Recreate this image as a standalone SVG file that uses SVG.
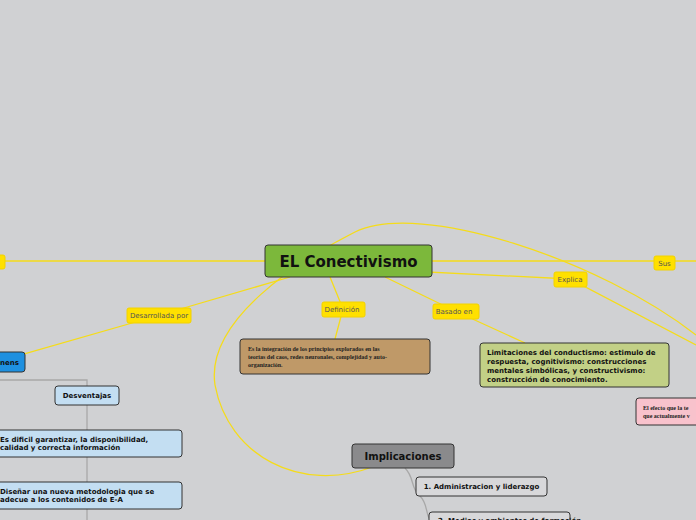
<svg xmlns="http://www.w3.org/2000/svg" width="696" height="520" viewBox="0 0 696 520">
<style>
.lbl{fill:#ffe000;stroke:#f2d200;stroke-width:1}
.lt{font-family:"DejaVu Sans",sans-serif;font-size:7px;fill:#555}
.bx{stroke:#333;stroke-width:1}
.b{font-family:"DejaVu Sans",sans-serif;font-weight:bold;font-size:7px;fill:#111}
.s{font-family:"Liberation Serif",serif;font-weight:bold;font-size:6px;fill:#222}
.y{fill:none;stroke:#f5dc1a;stroke-width:1.3}
.g{fill:none;stroke:#a8a8a8;stroke-width:1.3}
</style>
<rect width="696" height="520" fill="#d0d1d3"/>
<g id="connectors">
<path class="y" d="M0,261H265M432,261H696"/>
<path class="y" d="M290,277L160,315L20,355"/>
<path class="y" d="M330,277L343,309L335,339"/>
<path class="y" d="M385,277L455,311L525,343"/>
<path class="y" d="M388,270L570,279L696,345"/>
<path class="y" d="M696,335C600,260 420,200 355,232C300,260 205,320 215,385C228,455 300,495 375,466"/>
<path class="g" d="M0,380H87V520"/>
<path class="g" d="M405,468C415,478 410,488 420,496C428,504 425,512 430,520"/>
</g>
<g id="center"><rect x="265" y="245" width="167" height="32" rx="3" fill="#7cb83b" class="bx"/><text x="348.5" y="267" text-anchor="middle" font-family="DejaVu Sans,sans-serif" font-weight="bold" font-size="15" fill="#111">EL Conectivismo</text></g>
<g id="l-left"><rect class="lbl" x="-5" y="255" width="10" height="14" rx="2"/></g>
<g id="l-sus"><rect class="lbl" x="654" y="256" width="21" height="14" rx="2"/><text class="lt" x="664.5" y="265.5" text-anchor="middle">Sus</text></g>
<g id="l-des"><rect class="lbl" x="127" y="308" width="64" height="15" rx="2"/><text class="lt" x="159" y="318" text-anchor="middle">Desarrollada por</text></g>
<g id="l-def"><rect class="lbl" x="322" y="302" width="43" height="15" rx="2"/><text class="lt" x="342" y="312" text-anchor="middle">Definición</text></g>
<g id="l-bas"><rect class="lbl" x="433" y="304" width="46" height="15" rx="2"/><text class="lt" x="454" y="314" text-anchor="middle">Basado en</text></g>
<g id="l-exp"><rect class="lbl" x="554" y="272" width="33" height="15" rx="2"/><text class="lt" x="570" y="282" text-anchor="middle">Explica</text></g>
<g id="siemens"><rect x="-10" y="352" width="35" height="20" rx="3" fill="#1e90e0" class="bx"/><text class="b" x="0" y="365">nens</text></g>
<g id="def"><rect x="240" y="339" width="190" height="35" rx="3" fill="#bf9968" class="bx"/><text class="s" x="248" y="351">Es la integración de los principios explorados en las</text><text class="s" x="248" y="359">teorías del caos, redes neuronales, complejidad y auto-</text><text class="s" x="248" y="367">organización.</text></g>
<g id="basado"><rect x="480" y="343" width="189" height="44" rx="3" fill="#c2d086" class="bx"/><text class="b" x="487" y="355">Limitaciones del conductismo: estimulo de</text><text class="b" x="487" y="364">respuesta, cognitivismo: construcciones</text><text class="b" x="487" y="373">mentales simbólicas,  y constructivismo:</text><text class="b" x="487" y="382">construcción de conocimiento.</text></g>
<g id="pink"><rect x="636" y="398" width="70" height="27" rx="3" fill="#f8c2cc" class="bx"/><text class="s" x="643" y="410" font-size="5.5">El efecto que la te</text><text class="s" x="643" y="418" font-size="5.5">que actualmente v</text></g>
<g id="desv"><rect x="55" y="386" width="64" height="19" rx="3" fill="#c3def2" class="bx"/><text class="b" x="87" y="398" text-anchor="middle">Desventajas</text></g>
<g id="d1"><rect x="-10" y="430" width="192" height="27" rx="3" fill="#c3def2" class="bx"/><text class="b" x="0" y="442">Es dificil garantizar, la disponibilidad,</text><text class="b" x="0" y="450">calidad y correcta información</text></g>
<g id="d2"><rect x="-10" y="482" width="192" height="27" rx="3" fill="#c3def2" class="bx"/><text class="b" x="0" y="494">Diseñar una nueva metodologia que se</text><text class="b" x="0" y="502">adecue a los contenidos de E-A</text></g>
<g id="impl"><rect x="352" y="444" width="102" height="24" rx="3" fill="#8a8a8c" class="bx"/><text x="403" y="460" text-anchor="middle" font-family="DejaVu Sans,sans-serif" font-weight="bold" font-size="10" fill="#111">Implicaciones</text></g>
<g id="i1"><rect x="416" y="477" width="131" height="19" rx="3" fill="#d8d8da" class="bx"/><text class="b" x="481.5" y="489" text-anchor="middle">1. Administracion y liderazgo</text></g>
<g id="i2"><rect x="429" y="512" width="141" height="20" rx="3" fill="#d8d8da" class="bx"/><text class="b" x="438" y="523">2. Medios y ambientes de formación</text></g>
</svg>
